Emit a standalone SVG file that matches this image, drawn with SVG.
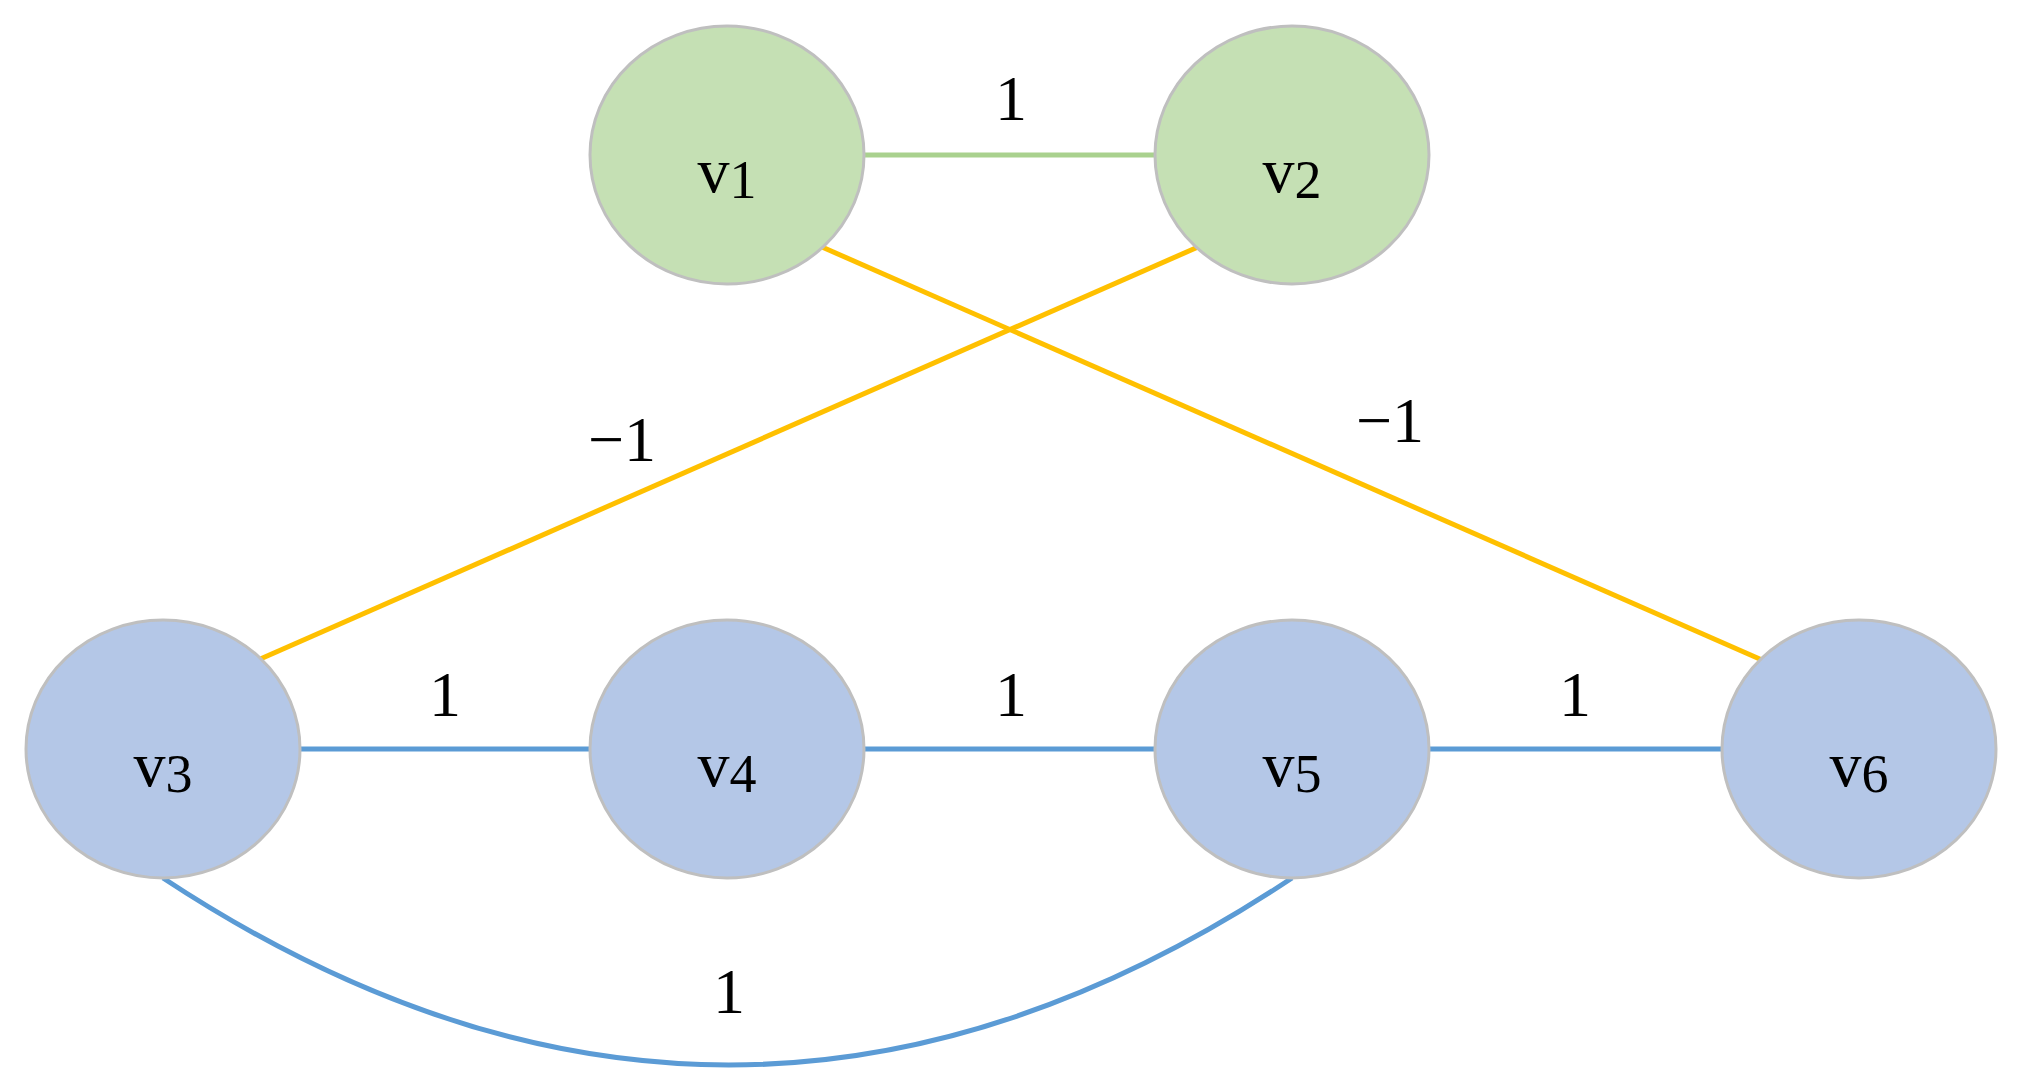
<svg xmlns="http://www.w3.org/2000/svg" width="2024" height="1089" viewBox="0 0 2024 1089">
<style>
.g{fill:#c5e0b4;stroke:#bfbfbf;stroke-width:3}
.b{fill:#b4c7e7;stroke:#bfbfbf;stroke-width:3}
.t{font-family:"Liberation Serif",serif;font-size:64px;fill:#000;text-anchor:middle}
.s{font-size:54px}
.e{fill:none;stroke-width:5}
</style>
<rect width="2024" height="1089" fill="#fff"/>
<g id="connectors">
<line class="e" x1="862" y1="155" x2="1158" y2="155" stroke="#a9d18e"/>
<line class="e" x1="822" y1="247" x2="1762" y2="660" stroke="#ffc000"/>
<line class="e" x1="1198" y1="247" x2="258" y2="660" stroke="#ffc000"/>
<line class="e" x1="299" y1="749" x2="594" y2="749" stroke="#5b9bd5"/>
<line class="e" x1="862" y1="749" x2="1158" y2="749" stroke="#5b9bd5"/>
<line class="e" x1="1428" y1="749" x2="1723" y2="749" stroke="#5b9bd5"/>
<path class="e" d="M163 878 Q730 1252 1292 878" stroke="#5b9bd5"/>
<text class="t" x="1011" y="120">1</text>
<text class="t" x="622" y="461">−1</text>
<text class="t" x="1390" y="442">−1</text>
<text class="t" x="445" y="716">1</text>
<text class="t" x="1011" y="716">1</text>
<text class="t" x="1575" y="716">1</text>
<text class="t" x="729" y="1013">1</text>
</g>
<g id="v1"><ellipse class="g" cx="727" cy="155" rx="137" ry="129"/><text class="t" x="727" y="192">v<tspan class="s" dy="6">1</tspan></text></g>
<g id="v2"><ellipse class="g" cx="1292" cy="155" rx="137" ry="129"/><text class="t" x="1292" y="192">v<tspan class="s" dy="6">2</tspan></text></g>
<g id="v3"><ellipse class="b" cx="163" cy="749" rx="137" ry="129"/><text class="t" x="163" y="786">v<tspan class="s" dy="6">3</tspan></text></g>
<g id="v4"><ellipse class="b" cx="727" cy="749" rx="137" ry="129"/><text class="t" x="727" y="786">v<tspan class="s" dy="6">4</tspan></text></g>
<g id="v5"><ellipse class="b" cx="1292" cy="749" rx="137" ry="129"/><text class="t" x="1292" y="786">v<tspan class="s" dy="6">5</tspan></text></g>
<g id="v6"><ellipse class="b" cx="1859" cy="749" rx="137" ry="129"/><text class="t" x="1859" y="786">v<tspan class="s" dy="6">6</tspan></text></g>
</svg>
